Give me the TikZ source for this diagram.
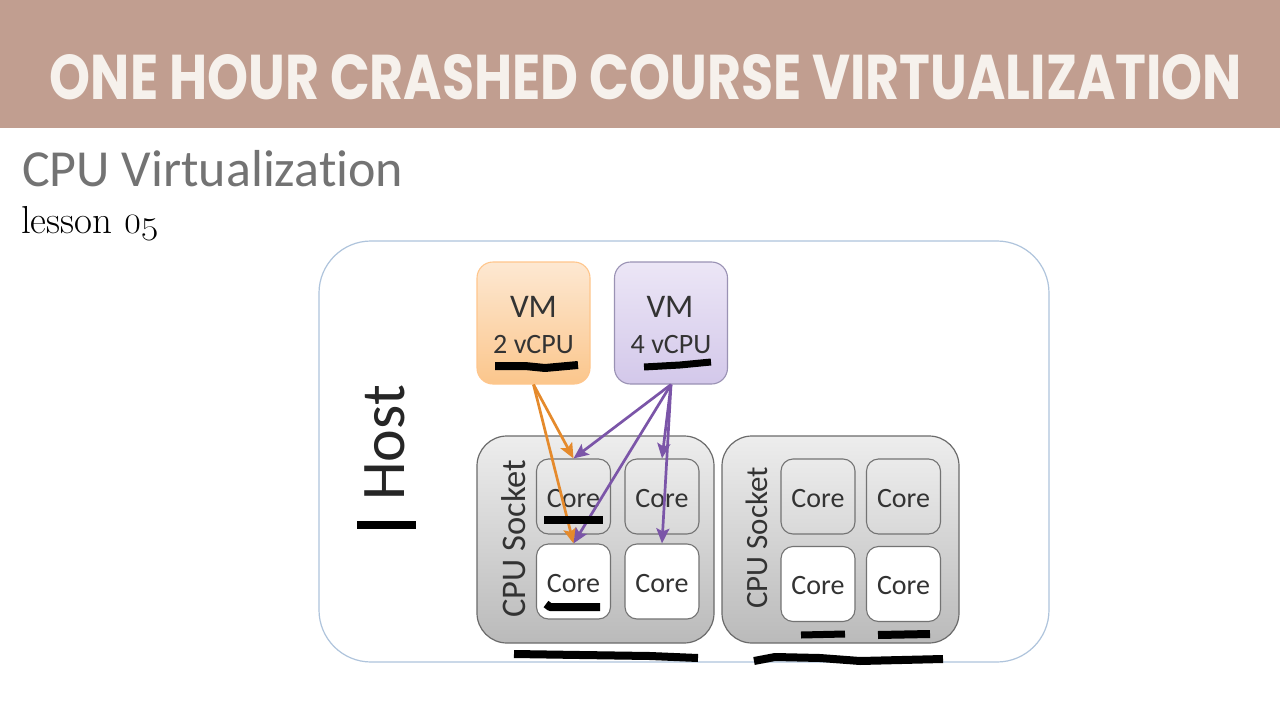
\documentclass[tikz,border=0pt]{standalone}
\usepackage{fontspec}
\usetikzlibrary{arrows.meta}
\setmainfont{Carlito}
\newfontfamily\titlefont{Poppins}
\newfontfamily\lessonfont{Latin Modern Roman}
\definecolor{banner}{HTML}{C19E90}
\definecolor{titletxt}{HTML}{F6F1EC}
\definecolor{oline}{HTML}{E58A2C}
\definecolor{pline}{HTML}{7B55A8}
\definecolor{hostline}{HTML}{AFC4DC}
\definecolor{txtc}{HTML}{333333}
\definecolor{vmotop}{HTML}{FDE8D2}
\definecolor{vmobot}{HTML}{FBC68C}
\definecolor{vmptop}{HTML}{ECE6F6}
\definecolor{vmpbot}{HTML}{D3C8EA}
\definecolor{vmpline}{HTML}{9A92B4}
\newcommand{\coretxt}{\raisebox{-2pt}[\height][\depth]{Core}}
\tikzset{
  x=1pt,y=-1pt,
  vmbox/.style={draw=#1,line width=1.1pt,rounded corners=16pt,minimum width=113pt,minimum height=122pt,inner sep=0pt},
  socket/.style={draw=black!58,line width=1.2pt,rounded corners=30pt,minimum width=237pt,minimum height=207pt,inner sep=0pt,top color=black!7,bottom color=black!27},
  coregray/.style={draw=black!55,line width=1.1pt,rounded corners=12pt,minimum width=74pt,minimum height=75pt,inner sep=0pt,top color=black!8,bottom color=black!15,text=txtc,font=\fontsize{28}{28}\selectfont},
  corewhite/.style={coregray,top color=white,bottom color=white},
  label/.style={inner sep=0pt,text=txtc,font=\fontsize{#1}{#1}\selectfont},
  scrib/.style={line width=#1,line join=round,black},
  link/.style={line width=2.7pt,draw=#1,-{Stealth[length=15pt,width=13pt,inset=3pt]}},
}
\begin{document}
\begin{tikzpicture}
\useasboundingbox (0,0) rectangle (1280,720);
\fill[white] (0,0) rectangle (1280,720);
\fill[banner] (0,0) rectangle (1280,128);
\node[inner sep=0pt,text=titletxt] (title) at (646,77.5) {\resizebox{1192pt}{45pt}{\titlefont\bfseries ONE HOUR CRASHED COURSE VIRTUALIZATION}};
\node[anchor=base west,inner sep=0pt,text=black!55,font=\fontsize{52}{52}\selectfont] (heading) at (22,186) {CPU Virtualizat\kern0pt ion};
\node[anchor=base west,inner sep=0pt,text=black,font=\lessonfont\fontsize{39}{39}\selectfont] (lesson) at (21,233) {lesson \scalebox{.92}[.72]{0}\raisebox{-7pt}{\scalebox{.98}[.85]{5}}};
\node[draw=hostline,line width=1.2pt,rounded corners=52pt,minimum width=730pt,minimum height=421pt,inner sep=0pt] (host) at (684,451.5) {};
\node[label=62,rotate=90,text=black!85] (hosttxt) at (385,443) {Host};
\node[vmbox=orange!45,top color=vmotop,bottom color=vmobot] (vm1) at (533.5,323) {};
\node[vmbox=vmpline,top color=vmptop,bottom color=vmpbot] (vm2) at (671,323) {};
\node[label=33] (vm1a) at (533.5,307) {VM};
\node[label=28] (vm1b) at (533.5,345) {2 vCPU};
\node[label=33] (vm2a) at (670,307) {VM};
\node[label=28] (vm2b) at (671,345) {4 vCPU};
\node[socket] (s1) at (595.5,539.5) {};
\node[socket] (s2) at (840.5,539.5) {};
\node[label=34.5,rotate=90] (s1t) at (514,538.5) {CPU Socket};
\node[label=31,rotate=90] (s2t) at (757,538) {CPU Socket};
\node[coregray] (c1) at (573.5,496.5) {\coretxt};
\node[coregray] (c2) at (662,496.5) {\coretxt};
\node[corewhite] (c3) at (573.5,581.5) {\coretxt};
\node[corewhite] (c4) at (662,581.5) {\coretxt};
\node[coregray] (d1) at (818,496.5) {\coretxt};
\node[coregray] (d2) at (903.5,496.5) {\coretxt};
\node[corewhite] (d3) at (818,584) {\coretxt};
\node[corewhite] (d4) at (903.5,584) {\coretxt};
\draw[link=oline] (vm1.south) -- (c1.north);
\draw[link=oline] (vm1.south) -- (c3.north);
\draw[link=pline] (vm2.south) -- (c1.north);
\draw[link=pline] (vm2.south) -- (c3.north);
\draw[link=pline] (vm2.south) -- (c2.north);
\draw[link=pline] (vm2.south) -- (c4.north);
\draw[scrib=8pt] (357,525) -- (416,525);
\draw[scrib=8pt] (495,366) -- (525,366) -- (545,368) -- (578,365);
\draw[scrib=7pt] (644,367) -- (680,365) -- (711,362);
\draw[scrib=8pt] (544,520) -- (603,520);
\draw[scrib=8pt] (546,604) -- (550,607) -- (600,607);
\draw[scrib=8pt] (514,654) -- (580,655) -- (650,656) -- (698,658);
\draw[scrib=8pt] (754,661) -- (775,657) -- (820,658) -- (860,661) -- (943,659);
\draw[scrib=7pt] (801,635) -- (845,634);
\draw[scrib=8pt] (878,635) -- (930,634);
\end{tikzpicture}
\end{document}
